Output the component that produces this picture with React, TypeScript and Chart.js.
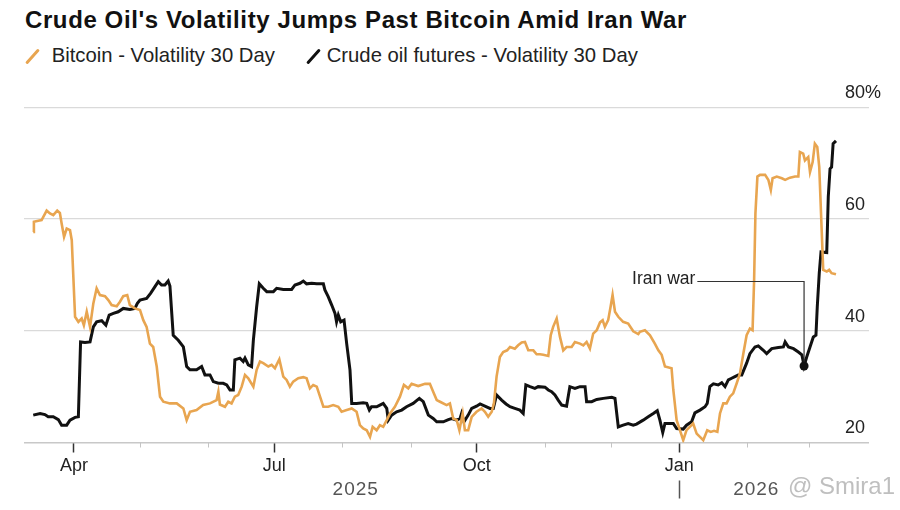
import React, { useEffect, useRef } from 'react';
import { Chart, registerables } from 'chart.js';

Chart.register(...registerables);

const FONT = '"Liberation Sans", Arial, Helvetica, sans-serif';
const ORANGE = '#E8A550';
const BLACK = '#111111';

const titleText = "Crude Oil's Volatility Jumps Past Bitcoin Amid Iran War";
const seriesNames = ['Bitcoin - Volatility 30 Day', 'Crude oil futures - Volatility 30 Day'];

// x values are days counted from 1 Mar 2025
const xMinDay = 8.3;
const xMaxDay = 392.2;
const monthTickDays = [31, 61, 92, 122, 153, 184, 214, 245, 275, 306, 337, 365];
const monthTickLabels = ['Apr', '', '', 'Jul', '', '', 'Oct', '', '', 'Jan', '', ''];
const yTickValues = [20, 40, 60, 80];
const yearLabels = ['2025', '2026'];
const yearLabelDays = [159, 341];
const yearSeparatorDay = 306;

const btcDays = [
  12.5, 12.8, 14.8, 16.3, 18.6, 20.1, 21.6, 23.4, 24.6, 25.4,
  26.5, 27.7, 29.2, 30.0, 31.5, 33.0, 34.5, 35.5, 36.8, 38.3,
  39.8, 41.3, 42.8, 45.1, 46.6, 48.1, 50.4, 51.9, 53.4, 55.2,
  56.4, 58.7, 61.0, 62.5, 64.0, 65.5, 67.0, 68.6, 70.1, 71.6,
  74.6, 77.7, 80.7, 82.2, 83.7, 86.7, 89.7, 92.8, 95.8, 96.6,
  97.3, 99.6, 101.1, 102.6, 104.1, 105.6, 107.2, 108.7, 110.2, 112.5,
  114.0, 115.5, 117.0, 119.3, 120.8, 122.3, 124.3, 126.1, 127.6, 129.1,
  130.6, 132.9, 135.2, 136.7, 138.2, 139.7, 141.3, 142.8, 144.3, 146.5,
  148.8, 151.1, 152.6, 154.9, 157.2, 159.4, 160.9, 162.4, 164.0, 165.5,
  166.7, 168.5, 170.0, 171.5, 173.1, 174.6, 176.8, 179.1, 180.9, 182.9,
  184.4, 187.4, 190.5, 192.7, 194.2, 195.8, 197.3, 200.3, 201.8, 203.3,
  204.9, 206.1, 207.6, 208.6, 210.1, 211.7, 213.9, 216.2, 217.7, 219.2,
  220.8, 221.8, 223.0, 224.5, 226.0, 227.8, 229.1, 231.3, 232.8, 234.4,
  235.9, 237.4, 239.7, 241.2, 242.7, 244.2, 246.5, 247.6, 248.7, 250.3,
  251.8, 253.3, 254.8, 257.1, 258.6, 260.9, 262.4, 263.9, 265.4, 266.9,
  268.5, 270.0, 271.2, 272.2, 273.7, 274.8, 275.7, 276.8, 278.3, 280.5,
  282.8, 285.1, 287.4, 288.1, 290.4, 292.7, 294.9, 296.5, 298.0, 299.5,
  302.5, 303.3, 304.8, 306.3, 307.8, 309.3, 310.8, 312.3, 313.9, 315.4,
  316.9, 318.7, 320.3, 321.8, 323.3, 324.5, 326.0, 327.5, 329.0, 330.5,
  332.1, 333.6, 335.1, 336.6, 338.1, 339.3, 340.0, 340.6, 341.5, 342.7,
  345.0, 346.5, 347.6, 348.4, 350.3, 352.6, 354.1, 356.3, 358.6, 360.1,
  360.8, 362.3, 363.1, 364.6, 365.4, 366.6, 367.6, 368.7, 369.6, 370.7,
  371.4, 373.0, 374.1, 375.2, 377.2,
];
const btcVol = [
  57.7, 59.5, 59.7, 59.8, 61.5, 61.0, 60.7, 61.5, 61.1, 59.2,
  56.8, 58.3, 58.0, 56.2, 42.5, 41.6, 42.2, 41.0, 43.4, 40.7,
  44.9, 47.6, 46.4, 46.2, 45.5, 44.6, 44.4, 45.2, 46.2, 46.4,
  44.6, 44.0, 43.7, 41.9, 40.7, 37.7, 37.1, 33.6, 28.2, 27.3,
  27.0, 27.0, 26.1, 24.0, 25.5, 25.8, 26.7, 27.0, 27.6, 29.1,
  26.8, 26.4, 27.3, 27.0, 28.2, 28.5, 30.0, 32.1, 31.5, 30.0,
  33.0, 34.5, 34.2, 33.6, 33.9, 33.3, 34.9, 31.8, 31.2, 30.0,
  30.9, 31.5, 31.7, 31.5, 29.7, 30.3, 30.0, 28.2, 26.4, 26.4,
  26.7, 26.4, 25.5, 25.8, 26.1, 25.5, 23.1, 22.5, 22.2, 21.0,
  22.8, 22.2, 23.1, 22.8, 24.0, 25.2, 26.4, 28.2, 30.3, 29.7,
  30.5, 30.1, 30.5, 30.5, 29.1, 27.6, 27.3, 26.7, 27.0, 24.3,
  24.0, 22.2, 25.2, 22.2, 22.2, 24.6, 25.5, 26.1, 25.5, 24.6,
  25.5, 27.0, 31.8, 35.3, 36.2, 36.5, 37.1, 36.8, 37.4, 37.9,
  38.0, 36.5, 36.5, 35.8, 35.8, 35.7, 35.5, 39.2, 40.7, 42.2,
  38.9, 36.5, 37.1, 37.1, 38.0, 37.7, 37.4, 38.0, 36.8, 39.5,
  40.1, 41.5, 41.9, 40.7, 41.9, 44.3, 46.4, 43.4, 42.5, 41.6,
  41.3, 39.9, 39.4, 39.8, 40.1, 39.2, 37.7, 36.5, 35.7, 33.6,
  33.3, 29.4, 24.0, 22.2, 20.4, 22.2, 22.8, 23.4, 21.6, 21.0,
  20.4, 22.2, 21.9, 22.1, 21.9, 25.2, 27.0, 27.0, 28.2, 28.8,
  30.6, 32.4, 35.9, 39.2, 40.4, 40.1, 49.0, 61.0, 67.6, 67.9,
  67.9, 67.0, 65.2, 67.3, 67.6, 67.3, 67.0, 67.4, 67.6, 67.6,
  72.0, 71.7, 70.5, 71.1, 68.4, 70.2, 73.5, 72.9, 69.3, 58.0,
  50.9, 50.6, 50.9, 50.3, 50.1,
];

const oilDays = [
  12.5, 15.6, 17.8, 19.3, 21.6, 23.9, 25.4, 27.7, 29.2, 31.5,
  33.0, 34.0, 36.0, 38.3, 39.8, 41.3, 43.6, 45.5, 47.0, 48.9,
  51.1, 53.4, 56.4, 58.7, 59.8, 61.0, 64.0, 65.8, 67.8, 69.3,
  70.8, 72.3, 73.8, 74.6, 76.1, 78.4, 80.7, 82.2, 83.7, 86.7,
  89.0, 90.5, 92.8, 94.3, 96.6, 98.8, 100.4, 101.9, 103.4, 104.1,
  106.4, 107.9, 108.7, 110.2, 111.7, 112.5, 114.0, 115.2, 117.0, 118.6,
  121.6, 123.1, 126.1, 129.9, 131.4, 133.7, 135.2, 136.7, 139.0, 141.3,
  144.3, 145.0, 146.5, 148.1, 149.6, 150.3, 151.1, 152.2, 153.7, 154.9,
  156.4, 157.2, 159.4, 162.4, 164.0, 165.2, 166.2, 168.5, 170.0, 171.5,
  173.1, 173.8, 175.3, 177.6, 179.9, 182.1, 185.1, 187.9, 189.7, 192.0,
  194.2, 195.8, 198.8, 201.1, 202.6, 204.9, 206.4, 207.1, 208.2, 210.1,
  211.7, 213.9, 215.5, 217.7, 220.0, 221.5, 223.0, 225.3, 227.3, 229.1,
  231.3, 233.6, 235.1, 236.3, 238.2, 240.4, 241.9, 245.0, 246.5, 248.0,
  249.5, 251.0, 252.6, 254.8, 256.3, 258.6, 260.9, 263.2, 263.9, 266.2,
  268.5, 271.5, 275.3, 276.8, 278.3, 280.5, 282.8, 285.1, 286.6, 289.6,
  291.9, 294.2, 296.0, 297.2, 298.5, 299.5, 303.3, 304.8, 307.8, 309.3,
  311.6, 313.1, 315.4, 317.7, 318.7, 319.9, 321.5, 323.7, 325.3, 326.8,
  328.3, 329.8, 331.3, 332.8, 334.4, 336.6, 338.1, 340.4, 341.9, 344.2,
  345.7, 348.0, 351.0, 353.3, 354.1, 355.6, 357.9, 360.1, 361.7, 362.7,
  363.9, 365.4, 366.9, 368.1, 368.7, 369.6, 370.4, 373.0, 373.7, 374.5,
  375.2, 375.9, 377.2,
];
const oilVol = [
  24.9, 25.2, 25.0, 24.6, 24.6, 24.1, 23.1, 23.1, 24.0, 24.5,
  24.6, 38.0, 37.9, 38.0, 40.7, 41.6, 41.8, 41.0, 42.8, 43.1,
  43.4, 44.0, 43.8, 44.0, 44.9, 45.5, 45.8, 46.7, 47.9, 48.8,
  48.2, 48.2, 48.9, 48.0, 39.2, 38.3, 37.1, 33.6, 33.0, 33.0,
  33.6, 32.1, 32.1, 30.9, 30.6, 30.6, 30.3, 29.4, 29.4, 34.8,
  35.1, 34.5, 35.1, 33.9, 33.6, 38.3, 44.3, 48.4, 47.6, 47.0,
  47.0, 47.6, 47.4, 47.4, 48.2, 48.5, 48.9, 48.4, 48.5, 48.4,
  48.4, 47.3, 46.1, 44.6, 43.1, 41.6, 42.8, 41.6, 41.9, 37.7,
  33.0, 27.0, 27.0, 27.1, 27.0, 25.8, 26.4, 26.4, 26.7, 27.0,
  26.1, 24.0, 24.9, 25.5, 25.8, 26.4, 27.0, 27.9, 27.3, 24.9,
  24.3, 23.7, 23.7, 24.1, 24.3, 24.0, 24.3, 25.2, 23.7, 24.9,
  26.1, 26.5, 26.9, 26.5, 26.1, 26.1, 28.5, 27.6, 26.9, 26.4,
  26.1, 25.8, 25.2, 30.3, 30.0, 29.7, 30.0, 29.9, 29.4, 29.1,
  28.5, 27.6, 26.7, 26.5, 30.0, 29.7, 30.0, 30.0, 27.3, 27.3,
  27.7, 27.9, 28.1, 27.9, 22.8, 23.1, 23.4, 23.1, 23.3, 24.0,
  24.6, 25.2, 25.7, 24.0, 21.8, 23.4, 23.4, 22.5, 22.4, 23.1,
  23.7, 25.3, 25.8, 26.4, 27.0, 30.0, 30.5, 30.3, 30.7, 30.0,
  31.2, 31.5, 31.8, 32.1, 32.1, 34.2, 35.9, 37.1, 37.3, 36.5,
  35.9, 36.8, 37.0, 37.1, 38.0, 37.1, 36.8, 36.2, 35.7, 33.7,
  35.3, 37.1, 38.9, 39.2, 44.3, 50.3, 54.1, 54.0, 64.0, 69.0,
  69.3, 73.5, 74.0,
];

const annotationText = 'Iran war';
const annotationDay = 362.7;
const annotationValue = 33.7;
const annotationLevel = 48.9;
const annotationTextDay = 313.3;
const watermarkText = '@ Smira1';

const overlayPlugin = {
  id: 'overlay',
  afterDraw(chart: any) {
    const { ctx, chartArea } = chart;
    const x = chart.scales.x;
    const y = chart.scales.y;
    ctx.save();

    // minor month ticks
    ctx.strokeStyle = '#c4c4c4';
    ctx.lineWidth = 1;
    monthTickDays.forEach((d, i) => {
      if (monthTickLabels[i]) return;
      const px = Math.round(x.getPixelForValue(d)) + 0.5;
      ctx.beginPath();
      ctx.moveTo(px, chartArea.bottom);
      ctx.lineTo(px, chartArea.bottom + 5);
      ctx.stroke();
    });

    // year labels
    ctx.fillStyle = '#555';
    ctx.font = `19px ${FONT}`;
    ctx.textAlign = 'center';
    ctx.textBaseline = 'alphabetic';
    (ctx as any).letterSpacing = '1px';
    yearLabels.forEach((t, i) => {
      ctx.fillText(t, x.getPixelForValue(yearLabelDays[i]), chartArea.bottom + 52.5);
    });
    (ctx as any).letterSpacing = '0px';

    // year separator
    const sx = Math.round(x.getPixelForValue(yearSeparatorDay)) + 0.5;
    ctx.strokeStyle = '#555';
    ctx.lineWidth = 1.5;
    ctx.beginPath();
    ctx.moveTo(sx, chartArea.bottom + 38);
    ctx.lineTo(sx, chartArea.bottom + 56);
    ctx.stroke();

    // annotation
    const px = x.getPixelForValue(annotationDay);
    const py = y.getPixelForValue(annotationValue);
    const ly = Math.round(y.getPixelForValue(annotationLevel)) + 0.5;
    const tx = x.getPixelForValue(annotationTextDay);
    ctx.strokeStyle = '#333';
    ctx.lineWidth = 1.2;
    ctx.beginPath();
    ctx.moveTo(tx + 2, ly);
    ctx.lineTo(px, ly);
    ctx.lineTo(px, py);
    ctx.stroke();
    ctx.fillStyle = BLACK;
    ctx.beginPath();
    ctx.arc(px, py, 4.5, 0, Math.PI * 2);
    ctx.fill();
    ctx.font = `17.5px ${FONT}`;
    ctx.textAlign = 'right';
    ctx.fillStyle = '#222';
    ctx.fillText(annotationText, tx, ly + 2.5);

    // watermark
    ctx.font = `24px ${FONT}`;
    ctx.textAlign = 'left';
    ctx.fillStyle = 'rgba(175,175,175,0.8)';
    ctx.fillText(watermarkText, chartArea.right - 81, chartArea.bottom + 51);

    ctx.restore();
  },
};

function Slash({ color, left }: { color: string; left: number }) {
  return (
    <span
      style={{
        position: 'absolute',
        left: left - 1.5,
        top: 46.5,
        width: 3,
        height: 19,
        borderRadius: 2,
        background: color,
        transform: 'rotate(42deg)',
      }}
    />
  );
}

export default function App() {
  const canvasRef = useRef<HTMLCanvasElement | null>(null);

  useEffect(() => {
    if (!canvasRef.current) return;
    const chart = new Chart(canvasRef.current, {
      type: 'line',
      data: {
        datasets: [
          {
            label: seriesNames[0],
            data: btcDays.map((d, i) => ({ x: d, y: btcVol[i] })),
            borderColor: ORANGE,
            borderWidth: 2.6,
            pointRadius: 0,
            tension: 0,
            fill: false,
          },
          {
            label: seriesNames[1],
            data: oilDays.map((d, i) => ({ x: d, y: oilVol[i] })),
            borderColor: BLACK,
            borderWidth: 3,
            pointRadius: 0,
            tension: 0,
            fill: false,
          },
        ],
      },
      options: {
        responsive: false,
        animation: false,
        layout: { padding: { left: 24, right: 31, top: 107.3, bottom: 0 } },
        plugins: { legend: { display: false }, tooltip: { enabled: false }, title: { display: false } },
        scales: {
          x: {
            type: 'linear',
            min: xMinDay,
            max: xMaxDay,
            afterBuildTicks: (s: any) => {
              s.ticks = monthTickDays.map((v) => ({ value: v }));
            },
            afterFit: (s: any) => {
              s.height = 67.5;
            },
            grid: {
              drawOnChartArea: false,
              drawTicks: true,
              tickLength: 10,
              tickWidth: 1.5,
              tickColor: (c: any) => (monthTickLabels[c.index] ? '#333' : 'rgba(0,0,0,0)'),
            },
            border: { display: false },
            ticks: {
              autoSkip: false,
              maxRotation: 0,
              padding: 3,
              color: '#222',
              font: { family: FONT, size: 18 },
              callback: (_v: any, i: number) => monthTickLabels[i],
            },
          },
          y: {
            position: 'right',
            min: 20,
            max: 80,
            afterBuildTicks: (s: any) => {
              s.ticks = yTickValues.map((v) => ({ value: v }));
            },
            afterFit: (s: any) => {
              s.width = 0;
            },
            grid: {
              drawTicks: false,
              color: (c: any) => (c.tick && c.tick.value === 20 ? '#c8c8c8' : '#dadada'),
              lineWidth: (c: any) => (c.tick && c.tick.value === 20 ? 1.6 : 1.2),
            },
            border: { display: false },
            ticks: {
              mirror: true,
              crossAlign: 'far',
              padding: 12,
              labelOffset: -14,
              autoSkip: false,
              color: '#222',
              font: { family: FONT, size: 18 },
              callback: (v: any) => (v === 80 ? '80%' : String(v)),
            },
          },
        },
      },
      plugins: [overlayPlugin],
    } as any);
    return () => chart.destroy();
  }, []);

  return (
    <div style={{ position: 'absolute', left: 0, top: 0, width: 900, height: 510, background: '#fff', overflow: 'hidden', fontFamily: FONT }}>
      <div
        style={{
          position: 'absolute',
          left: 25,
          top: 8,
          font: `bold 24px/24px ${FONT}`,
          letterSpacing: '0.6px',
          color: '#111',
          whiteSpace: 'nowrap',
        }}
      >
        {titleText}
      </div>
      <Slash color={ORANGE} left={32} />
      <div style={{ position: 'absolute', left: 51.7, top: 45.4, font: `20.3px/20px ${FONT}`, color: '#222', whiteSpace: 'nowrap' }}>
        {seriesNames[0]}
      </div>
      <Slash color={BLACK} left={313} />
      <div style={{ position: 'absolute', left: 326.7, top: 45.4, font: `20.3px/20px ${FONT}`, color: '#222', whiteSpace: 'nowrap' }}>
        {seriesNames[1]}
      </div>
      <canvas ref={canvasRef} width={900} height={510} style={{ position: 'absolute', left: 0, top: 0, width: 900, height: 510 }} />
    </div>
  );
}
